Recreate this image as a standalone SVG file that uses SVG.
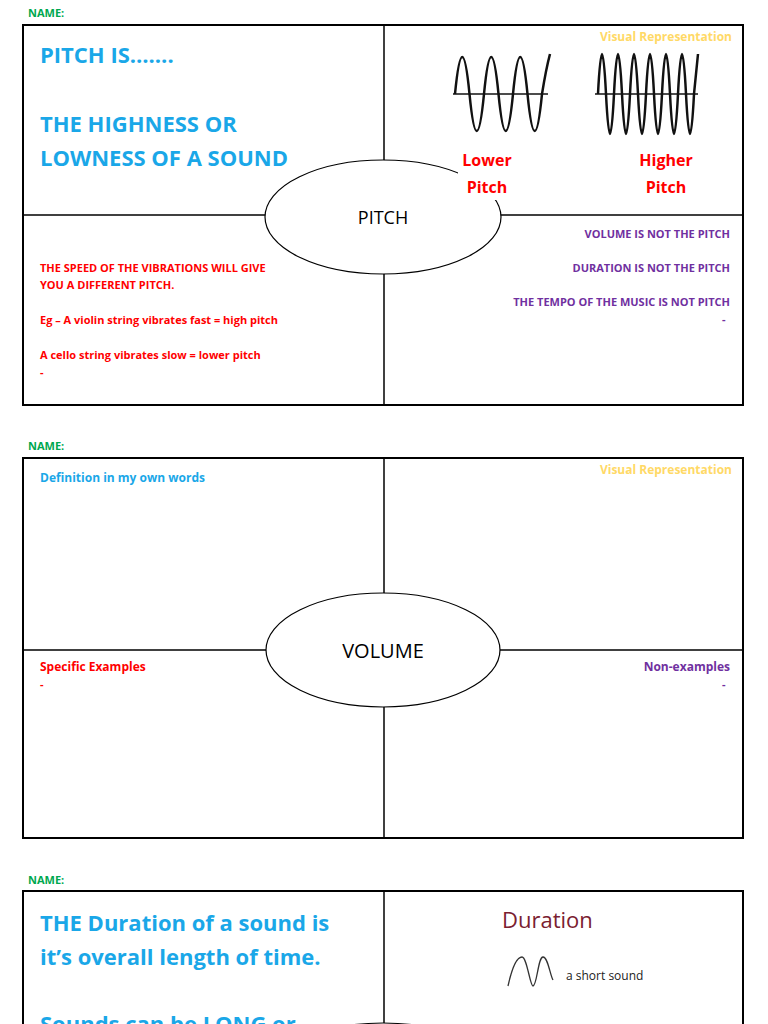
<svg xmlns="http://www.w3.org/2000/svg" width="768" height="1024" viewBox="0 0 768 1024">
<style>
text{font-family:"Open Sans","Liberation Sans",sans-serif}
.box{fill:none;stroke:#000;stroke-width:2}
.ln{stroke:#000;stroke-width:1.5}
.ell{fill:#fff;stroke:#000;stroke-width:1.2}
.name{fill:#00a850;font-size:11px;font-weight:bold}
.vis{fill:#ffd966;font-size:12px;font-weight:bold}
.big{fill:#1aa7e8;font-size:22px;font-weight:bold}
.red{fill:#ff0000;font-size:11px;font-weight:bold}
.pur{fill:#7030a0;font-size:11px;font-weight:bold}
.wave{fill:none;stroke:#111;stroke-width:2.5}
</style>
<rect width="768" height="1024" fill="#fff"/>
<g id="panel1">
<text x="28" y="17" class="name">NAME:</text>
<rect x="23" y="25" width="720" height="380" class="box"/>
<line x1="384" y1="25" x2="384" y2="405" class="ln"/>
<line x1="23" y1="215" x2="743" y2="215" class="ln"/>
<ellipse cx="383" cy="217" rx="118" ry="57" class="ell"/>
<rect x="458" y="146" width="60" height="54" fill="#fff"/>
<text x="40" y="63" class="big">PITCH IS…….</text>
<text x="40" y="132" class="big">THE HIGHNESS OR</text>
<text x="40" y="166" class="big">LOWNESS OF A SOUND</text>
<text x="732" y="41" class="vis" text-anchor="end">Visual Representation</text>
<line x1="453" y1="94" x2="548" y2="94" stroke="#111" stroke-width="1.5"/>
<path class="wave" d="M455 94 q7.25 -74 14.5 0 t14.5 0 t14.5 0 t14.5 0 t14.5 0 t14.5 0 q4 -25 8 -40"/>
<line x1="595" y1="94" x2="698" y2="94" stroke="#111" stroke-width="1.5"/>
<path class="wave" d="M598 94 q4 -80 8 0 t8 0 t8 0 t8 0 t8 0 t8 0 t8 0 t8 0 t8 0 t8 0 t8 0 t8 0 q2 -20 4 -40"/>
<text x="487" y="166" fill="#ff0000" font-size="16" font-weight="bold" text-anchor="middle">Lower</text>
<text x="487" y="193" fill="#ff0000" font-size="16" font-weight="bold" text-anchor="middle">Pitch</text>
<text x="666" y="166" fill="#ff0000" font-size="16" font-weight="bold" text-anchor="middle">Higher</text>
<text x="666" y="193" fill="#ff0000" font-size="16" font-weight="bold" text-anchor="middle">Pitch</text>
<text x="383" y="224" font-size="18" text-anchor="middle">PITCH</text>
<text x="40" y="272" class="red">THE SPEED OF THE VIBRATIONS WILL GIVE</text>
<text x="40" y="289" class="red">YOU A DIFFERENT PITCH.</text>
<text x="40" y="324" class="red">Eg – A violin string vibrates fast = high pitch</text>
<text x="40" y="359" class="red">A cello string vibrates slow = lower pitch</text>
<text x="40" y="376" class="red">-</text>
<text x="730" y="238" class="pur" text-anchor="end">VOLUME IS NOT THE PITCH</text>
<text x="730" y="272" class="pur" text-anchor="end">DURATION IS NOT THE PITCH</text>
<text x="730" y="306" class="pur" text-anchor="end">THE TEMPO OF THE MUSIC IS NOT PITCH</text>
<text x="722" y="323" class="pur">-</text>
</g>
<g id="panel2">
<text x="28" y="450" class="name">NAME:</text>
<rect x="23" y="458" width="720" height="380" class="box"/>
<line x1="384" y1="458" x2="384" y2="838" class="ln"/>
<line x1="23" y1="650" x2="743" y2="650" class="ln"/>
<text x="40" y="482" fill="#1aa7e8" font-size="12" font-weight="bold">Definition in my own words</text>
<text x="732" y="474" class="vis" text-anchor="end">Visual Representation</text>
<ellipse cx="383" cy="650" rx="117" ry="57" class="ell"/>
<text x="383" y="658" font-size="20" text-anchor="middle">VOLUME</text>
<text x="40" y="671" fill="#ff0000" font-size="12" font-weight="bold">Specific Examples</text>
<text x="40" y="688" class="red">-</text>
<text x="730" y="671" fill="#7030a0" font-size="12" font-weight="bold" text-anchor="end">Non-examples</text>
<text x="722" y="688" class="pur">-</text>
</g>
<g id="panel3">
<text x="28" y="884" class="name">NAME:</text>
<rect x="23" y="891" width="720" height="160" class="box"/>
<line x1="384" y1="891" x2="384" y2="1024" class="ln"/>
<text x="40" y="931" class="big" font-size="24">THE Duration of a sound is</text>
<text x="40" y="965" class="big" font-size="24">it’s overall length of time.</text>
<text x="40" y="1032" class="big" font-size="24">Sounds can be LONG or</text>
<ellipse cx="383" cy="1080" rx="118" ry="57" class="ell"/>
<text x="502" y="928" fill="#7a2030" font-size="22">Duration</text>
<path d="M508 986 C512 968 517 957 522 957 C527 957 530 986 533 986 C537 986 538 957 543 957 C548 957 550 975 553 980" fill="none" stroke="#333" stroke-width="1.3"/>
<text x="566" y="980" fill="#222" font-size="12">a short sound</text>
</g>
</svg>
